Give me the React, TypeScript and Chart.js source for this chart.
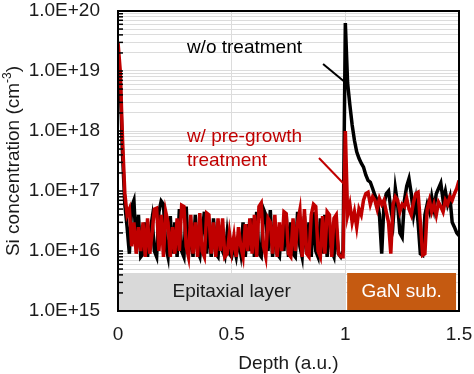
import { useEffect, useRef } from 'react';
import { Chart, registerables } from 'chart.js';

Chart.register(...registerables);

const FONT = '"Liberation Sans", Arial, "DejaVu Sans", sans-serif';
const TEXT = '#1a1a1a';

// Depth grid step (a.u.)
const DEPTH_STEP = 0.01;

// Si concentration, in units of 1e15 cm^-3, one value per depth step (0 .. 1.50)
const woTreatment = [
  20000, 6000, 400, 60, 25, 9, 55, 70, 12, 40,
  8, 9, 30, 8, 20, 35, 10, 8, 45, 68,
  60, 12, 8, 38, 9, 30, 8, 50, 10, 8,
  55, 9, 25, 8, 40, 10, 8, 20, 45, 9,
  30, 8, 35, 9, 8, 25, 10, 8, 20, 9,
  8, 12, 8, 15, 9, 30, 8, 28, 10, 35,
  8, 45, 9, 8, 50, 40, 10, 48, 8, 30,
  9, 8, 25, 10, 40, 8, 30, 9, 8, 45,
  12, 8, 38, 9, 30, 8, 45, 10, 8, 35,
  9, 40, 8, 30, 10, 8, 25, 9, 8, 10,
  63000, 6300, 2700, 1260, 700, 450, 350, 290, 250, 185,
  150, 140, 110, 85, 70, 40, 9, 60, 90, 100,
  50, 30, 110, 60, 20, 17, 70, 120, 160, 90,
  40, 70, 30, 9, 8.5, 40, 60, 45, 80, 50,
  90, 110, 135, 70, 100, 60, 80, 30, 25, 20,
  18,
];

const preGrowthTreatment = [
  30000, 10000, 700, 92, 40, 50, 12, 30, 9, 25,
  10, 30, 8, 35, 9, 20, 50, 52, 10, 40,
  8, 45, 30, 8, 25, 9, 35, 10, 58, 55,
  12, 8, 40, 9, 30, 8, 43, 10, 8, 43,
  40, 9, 30, 8, 35, 10, 35, 8, 9, 20,
  10, 18, 8, 25, 12, 8, 28, 10, 35, 9,
  40, 8, 55, 63, 12, 8, 35, 30, 9, 40,
  8, 30, 10, 45, 42, 9, 8, 35, 10, 30,
  48, 8, 50, 9, 8, 40, 60, 55, 10, 8,
  38, 9, 45, 40, 8, 35, 40, 9, 8, 8,
  1000, 40, 60, 30, 45, 25, 50, 40, 70, 90,
  95, 60, 80, 70, 50, 75, 60, 70, 45, 30,
  9, 60, 80, 70, 45, 60, 55, 75, 50, 40,
  65, 90, 95, 30, 8.5, 9, 50, 70, 45, 60,
  40, 65, 55, 45, 70, 60, 80, 70, 90, 110,
  150,
];

const UNIT = 1e15;
const depth = woTreatment.map((_, i) => Math.round(i * DEPTH_STEP * 100) / 100);

const Y_MIN_EXP = 15;
const Y_MAX_EXP = 20;
const X_MIN = 0;
const X_MAX = 1.5;
const X_STEP = 0.5;

const layerNames = ['Epitaxial layer', 'GaN sub.'];
const layerFrom = [0, 1.008];
const layerTo = [1.0, 1.487];
const layerTop = 4.3e15;
const layerFill = ['#d9d9d9', '#c55a11'];
const layerText = [TEXT, '#ffffff'];

const noteLines = [['w/o treatment'], ['w/ pre-growth', 'treatment']];
const noteX = [0.303, 0.303];
const noteY = [[2.0e19], [6.56e17, 2.6e17]];
const noteColor = ['#000000', '#c00000'];
const noteArrowX = [[0.902, 1.003], [0.884, 0.994]];
const noteArrowY = [[1.31e19, 6.3e18], [3.55e17, 1.31e17]];

const zeroPadding = (s: any) => {
  s.paddingTop = 0;
  s.paddingBottom = 0;
  s.paddingLeft = 0;
  s.paddingRight = 0;
};

const decorPlugin = {
  id: 'decor',
  beforeDatasetsDraw(chart: any) {
    const { ctx, chartArea } = chart;
    const x = chart.scales.x;
    const y = chart.scales.y;
    ctx.save();
    layerNames.forEach((name, i) => {
      const x0 = x.getPixelForValue(layerFrom[i]);
      const x1 = x.getPixelForValue(layerTo[i]);
      const yt = y.getPixelForValue(layerTop);
      const yb = chartArea.bottom;
      ctx.fillStyle = layerFill[i];
      ctx.fillRect(x0, yt, x1 - x0, yb - yt);
      ctx.fillStyle = layerText[i];
      ctx.font = `19px ${FONT}`;
      ctx.textAlign = 'center';
      ctx.textBaseline = 'middle';
      ctx.fillText(name, (x0 + x1) / 2, (yt + yb) / 2);
    });
    ctx.restore();
  },
  afterDatasetsDraw(chart: any) {
    const { ctx, chartArea } = chart;
    const x = chart.scales.x;
    const y = chart.scales.y;
    ctx.save();
    // annotations
    noteLines.forEach((lines, i) => {
      ctx.fillStyle = noteColor[i];
      ctx.font = `19px ${FONT}`;
      ctx.textAlign = 'left';
      ctx.textBaseline = 'alphabetic';
      lines.forEach((t, j) => {
        ctx.fillText(t, x.getPixelForValue(noteX[i]), y.getPixelForValue(noteY[i][j]));
      });
      ctx.strokeStyle = noteColor[i];
      ctx.lineWidth = 2;
      ctx.beginPath();
      ctx.moveTo(x.getPixelForValue(noteArrowX[i][0]), y.getPixelForValue(noteArrowY[i][0]));
      ctx.lineTo(x.getPixelForValue(noteArrowX[i][1]), y.getPixelForValue(noteArrowY[i][1]));
      ctx.stroke();
    });
    // inside tick marks on the left axis
    ctx.strokeStyle = '#000';
    ctx.lineWidth = 1.5;
    y.ticks.forEach((t: any) => {
      const py = y.getPixelForValue(t.value);
      if (py <= chartArea.top + 1 || py >= chartArea.bottom - 1) return;
      ctx.beginPath();
      ctx.moveTo(chartArea.left, py);
      ctx.lineTo(chartArea.left + 5, py);
      ctx.stroke();
    });
    // frame
    ctx.lineWidth = 2;
    ctx.strokeRect(chartArea.left, chartArea.top, chartArea.right - chartArea.left, chartArea.bottom - chartArea.top);
    // y title with superscript
    const main = 'Si concentration (cm';
    const sup = '-3';
    const end = ')';
    ctx.fillStyle = TEXT;
    ctx.font = `19px ${FONT}`;
    const wMain = ctx.measureText(main).width;
    const wEnd = ctx.measureText(end).width;
    ctx.font = `12px ${FONT}`;
    const wSup = ctx.measureText(sup).width;
    const total = wMain + wSup + wEnd;
    const cy = (chartArea.top + chartArea.bottom) / 2;
    ctx.translate(18.5, cy);
    ctx.rotate(-Math.PI / 2);
    ctx.textAlign = 'left';
    ctx.textBaseline = 'alphabetic';
    let px = -total / 2;
    ctx.font = `19px ${FONT}`;
    ctx.fillText(main, px, 0);
    px += wMain;
    ctx.font = `12px ${FONT}`;
    ctx.fillText(sup, px, -8);
    px += wSup;
    ctx.font = `19px ${FONT}`;
    ctx.fillText(end, px, 0);
    ctx.setTransform(1, 0, 0, 1, 0, 0);
    // x title
    ctx.textAlign = 'center';
    ctx.fillText('Depth (a.u.)', x.getPixelForValue((X_MIN + X_MAX) / 2), 369);
    ctx.restore();
  },
};

export default function App() {
  const ref = useRef<HTMLCanvasElement>(null);

  useEffect(() => {
    document.body.style.margin = '0';
    const canvas = ref.current;
    if (!canvas) return;
    const chart = new Chart(canvas, {
      type: 'line',
      data: {
        datasets: [
          {
            label: 'w/ pre-growth treatment',
            data: preGrowthTreatment.map((v, i) => ({ x: depth[i], y: v * UNIT })),
            borderColor: '#c00000',
            borderWidth: 3.5,
            pointRadius: 0,
            tension: 0,
            fill: false,
          },
          {
            label: 'w/o treatment',
            data: woTreatment.map((v, i) => ({ x: depth[i], y: v * UNIT })),
            borderColor: '#000000',
            borderWidth: 3.5,
            pointRadius: 0,
            tension: 0,
            fill: false,
          },
        ],
      },
      options: {
        animation: false,
        responsive: false,
        events: [],
        layout: { padding: { top: 11, right: 15, left: 0, bottom: 0 } },
        plugins: { legend: { display: false }, tooltip: { enabled: false } },
        scales: {
          x: {
            type: 'linear',
            min: X_MIN,
            max: X_MAX,
            border: { display: false },
            grid: { color: '#dcdcdc', lineWidth: 1, drawTicks: false },
            ticks: {
              stepSize: X_STEP,
              padding: 12,
              color: TEXT,
              font: { family: FONT, size: 19 },
              callback: (v: any) => String(Number(v)),
            },
            afterFit: (s: any) => {
              s.height = 63;
              zeroPadding(s);
            },
          },
          y: {
            type: 'logarithmic',
            min: 10 ** Y_MIN_EXP,
            max: 10 ** Y_MAX_EXP,
            border: { display: false },
            grid: { color: '#dcdcdc', lineWidth: 1, drawTicks: false },
            afterBuildTicks: (s: any) => {
              const t: any[] = [];
              for (let e = Y_MIN_EXP; e < Y_MAX_EXP; e++) {
                for (let m = 1; m < 10; m++) t.push({ value: m * 10 ** e });
              }
              t.push({ value: 10 ** Y_MAX_EXP });
              s.ticks = t;
            },
            ticks: {
              autoSkip: false,
              padding: 18,
              color: TEXT,
              font: { family: FONT, size: 19 },
              callback: (v: any) => {
                const e = Math.log10(Number(v));
                return Math.abs(e - Math.round(e)) < 1e-9 ? `1.0E+${Math.round(e)}` : '';
              },
            },
            afterFit: (s: any) => {
              s.width = 118;
              zeroPadding(s);
            },
          },
        },
      },
      plugins: [decorPlugin],
    });
    return () => chart.destroy();
  }, []);

  return (
    <div style={{ width: 474, height: 374 }}>
      <canvas ref={ref} width={474} height={374} style={{ display: 'block' }} />
    </div>
  );
}
